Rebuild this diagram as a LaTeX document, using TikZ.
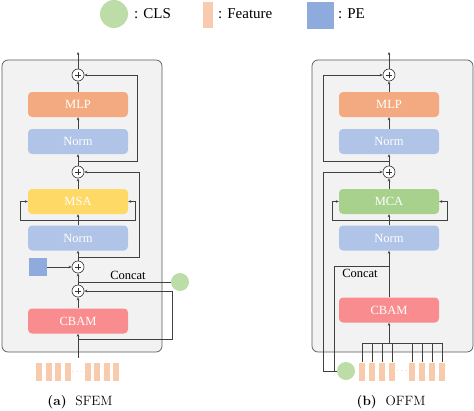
\documentclass[tikz,border=0pt]{standalone}
\usepackage{fontspec}
\newfontfamily\tnr{Liberation Serif}
\usetikzlibrary{arrows.meta}
\definecolor{mlpc}{HTML}{F4AA80}
\definecolor{normc}{HTML}{B0C4E8}
\definecolor{msac}{HTML}{FFD966}
\definecolor{mcac}{HTML}{A9D18E}
\definecolor{cbamc}{HTML}{F98C8E}
\definecolor{featc}{HTML}{F8CBAD}
\definecolor{pec}{HTML}{8FAADC}
\definecolor{clsc}{HTML}{BCDCA8}
\tikzset{
	blk/.style={rounded corners=4pt,minimum width=100pt,minimum height=25pt,inner sep=0pt,text=white,font=\tnr\fontsize{12.5}{14}\selectfont},
	plus/.style={circle,draw=black!80,fill=white,minimum size=12pt,inner sep=0pt,line width=0.6pt,
		path picture={\draw[line width=0.7pt] ([xshift=-3pt]path picture bounding box.center) -- ([xshift=3pt]path picture bounding box.center) ([yshift=-3pt]path picture bounding box.center) -- ([yshift=3pt]path picture bounding box.center);}},
	feat/.style={fill=featc,minimum width=6pt,minimum height=18pt,inner sep=0pt},
	cls/.style={circle,fill=clsc,minimum size=18pt,inner sep=0pt},
	frame/.style={rounded corners=6pt,draw=black!65,fill=black!5,line width=0.7pt},
	ln/.style={draw=black!75,line width=0.6pt},
	arr/.style={ln,-{Stealth[length=3pt,width=2.6pt]}},
	lbl/.style={font=\tnr\fontsize{12.5}{14}\selectfont,inner sep=0pt},
	lgd/.style={font=\tnr\fontsize{15}{17}\selectfont,anchor=west,inner sep=0pt},
	capt/.style={font=\fontsize{13.5}{15}\selectfont,inner sep=0pt}
}
\begin{document}
\begin{tikzpicture}[x=1pt,y=-1pt]
	\useasboundingbox (0,0) rectangle (474,410);
	\node[cls,minimum size=28pt] (lcls) at (114,14) {};
	\node[lgd] (tcls) at (134,14) {: CLS};
	\node[fill=featc,minimum width=10pt,minimum height=26pt,inner sep=0pt] (lfeat) at (208,15) {};
	\node[lgd] (tfeat) at (218,14) {: Feature};
	\node[fill=pec,minimum size=27pt,inner sep=0pt] (lpe) at (320,15) {};
	\node[lgd] (tpe) at (338,14) {: PE};

	\draw[frame] (2,60) rectangle (162,352);
	\node[blk,fill=mlpc] (mlpA) at (78,104.5) {MLP};
	\node[blk,fill=normc] (normA) at (78,141.5) {Norm};
	\node[blk,fill=msac] (msaA) at (78,201.5) {MSA};
	\node[blk,fill=normc] (normB) at (78,238) {Norm};
	\node[blk,fill=cbamc] (cbamA) at (78,321) {CBAM};
	\node[plus] (pa1) at (78,75) {};
	\node[plus] (pa2) at (78,172) {};
	\node[plus] (pa3) at (78,267) {};
	\node[plus] (pa4) at (78,291) {};
	\node[fill=pec,minimum size=18pt,inner sep=0pt] (pe) at (38,267) {};
	\node[cls] (clsA) at (180,282) {};
	\node[lbl] (catA) at (128,275) {Concat};
	\coordinate (outA) at (78,52);
	\coordinate (inA) at (78,358);
	\foreach \x [count=\i] in {39,49,58,67.5,88,97,107,116}
		\node[feat] (fa\i) at (\x,372) {};
	\node[text=featc,inner sep=0pt] (dotsA) at (77.5,372) {$\cdots$};
	\draw[arr] (inA) -- (cbamA);
	\draw[arr] (cbamA) -- (pa4);
	\draw[arr] (pa4) -- (pa3);
	\draw[arr] (pa3) -- (normB);
	\draw[arr] (normB) -- (msaA);
	\draw[arr] (msaA) -- (pa2);
	\draw[arr] (pa2) -- (normA);
	\draw[arr] (normA) -- (mlpA);
	\draw[arr] (mlpA) -- (pa1);
	\draw[arr] (pa1) -- (outA);
	\draw[arr] (pe) -- (pa3);
	\draw[ln] (clsA.west) -- (clsA.west -| pa4);
	\draw[arr] (78,339) -| (172,291) -- (pa4);
	\draw[arr] (78,257) -| (139,172) -- (pa2);
	\draw[arr] (78,161) -| (137,75) -- (pa1);
	\draw[arr] (78,220) -| (20,201.5) -- (msaA.west);
	\draw[arr] (78,220) -| (135,201.5) -- (msaA.east);
	\node[capt] (capA) at (80,402) {\textbf{(a)}\ \ SFEM};

	\draw[frame] (312,60) rectangle (473,352);
	\node[blk,fill=mlpc] (mlpB) at (389,104.5) {MLP};
	\node[blk,fill=normc] (normC) at (389,141.5) {Norm};
	\node[blk,fill=mcac] (mcaB) at (389,201.5) {MCA};
	\node[blk,fill=normc] (normD) at (389,238) {Norm};
	\node[blk,fill=cbamc] (cbamB) at (389,310) {CBAM};
	\node[plus] (pb1) at (389,75) {};
	\node[plus] (pb2) at (389,172) {};
	\node[cls] (clsB) at (346,371) {};
	\node[lbl] (catB) at (360,273) {Concat};
	\coordinate (outB) at (389,52);
	\foreach \x [count=\i] in {362,372,382,392,412,422,432,442}
		\node[feat] (fb\i) at (\x,371.5) {};
	\node[text=featc,inner sep=0pt] (dotsB) at (402,371.5) {$\cdots$};
	\draw[ln] (fb1.north |- 0,343) -- (fb8.north |- 0,343);
	\foreach \i in {1,...,8}
		\draw[ln] (fb\i.north |- 0,343) -- (fb\i.north);
	\draw[arr] (389,343) -- (cbamB);
	\draw[arr] (cbamB) -- (normD);
	\draw[arr] (normD) -- (mcaB);
	\draw[arr] (mcaB) -- (pb2);
	\draw[arr] (pb2) -- (normC);
	\draw[arr] (normC) -- (mlpB);
	\draw[arr] (mlpB) -- (pb1);
	\draw[arr] (pb1) -- (outB);
	\draw[arr] (389,161) -| (323,75) -- (pb1);
	\draw[arr] (clsB.west) -| (323,172) -- (pb2);
	\draw[ln] (389,266) -| (334,371);
	\draw[arr] (389,220) -| (332,201.5) -- (mcaB.west);
	\draw[arr] (389,220) -| (447,201.5) -- (mcaB.east);
	\node[capt] (capB) at (391,402) {\textbf{(b)}\ \ OFFM};
\end{tikzpicture}
\end{document}
